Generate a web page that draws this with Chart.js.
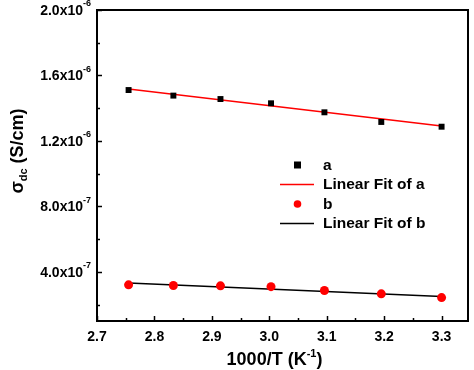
<!DOCTYPE html>
<html><head><meta charset="utf-8">
<script src="https://cdn.jsdelivr.net/npm/chart.js@4.4.0/dist/chart.umd.min.js"></script>
<style>html,body{margin:0;padding:0;background:#fff}</style>
</head><body>
<canvas id="c" width="474" height="370"></canvas>
<script>
const invT = [2.755, 2.833, 2.915, 3.003, 3.096, 3.195, 3.300];
const sigmaA = [1.511e-6, 1.477e-6, 1.456e-6, 1.430e-6, 1.375e-6, 1.316e-6, 1.287e-6];
const sigmaB = [0.321e-6, 0.317e-6, 0.315e-6, 0.310e-6, 0.286e-6, 0.266e-6, 0.243e-6];
const fitX = [2.755, 3.300];
const fitA = [1.518e-6, 1.292e-6];
const fitB = [0.332e-6, 0.250e-6];
const xMajorTicks = [2.7, 2.8, 2.9, 3.0, 3.1, 3.2, 3.3];
const xTickLabels = ['2.7', '2.8', '2.9', '3.0', '3.1', '3.2', '3.3'];
const xMinorTicks = [2.75, 2.85, 2.95, 3.05, 3.15, 3.25];
const yMajorTicks = [4e-7, 8e-7, 1.2e-6, 1.6e-6, 2.0e-6];
const yTickMantissa = ['4.0x10', '8.0x10', '1.2x10', '1.6x10', '2.0x10'];
const yTickExp = ['-7', '-7', '-6', '-6', '-6'];
const yMinorTicks = [2e-7, 6e-7, 1.0e-6, 1.4e-6, 1.8e-6];
const seriesLabels = ['a', 'Linear Fit of a', 'b', 'Linear Fit of b'];

const FONT = '"Liberation Sans", Arial, sans-serif';
const pts = (xs, ys) => xs.map((x, i) => ({x: x, y: ys[i]}));

const axisPlugin = {
  id: 'originAxes',
  afterDraw(chart) {
    const ctx = chart.ctx;
    const xs = chart.scales.x, ys = chart.scales.y;
    const a = chart.chartArea;
    ctx.save();
    ctx.strokeStyle = '#000';
    ctx.fillStyle = '#000';
    ctx.lineWidth = 2;
    ctx.strokeRect(a.left, a.top, a.right - a.left, a.bottom - a.top);
    ctx.lineWidth = 1.5;
    xMajorTicks.forEach(v => {
      const px = Math.round(xs.getPixelForValue(v)) + 0.5;
      ctx.beginPath(); ctx.moveTo(px, a.bottom); ctx.lineTo(px, a.bottom - 5); ctx.stroke();
    });
    xMinorTicks.forEach(v => {
      const px = Math.round(xs.getPixelForValue(v)) + 0.5;
      ctx.beginPath(); ctx.moveTo(px, a.bottom); ctx.lineTo(px, a.bottom - 3); ctx.stroke();
    });
    yMajorTicks.forEach(v => {
      const py = Math.round(ys.getPixelForValue(v)) + 0.5;
      ctx.beginPath(); ctx.moveTo(a.left, py); ctx.lineTo(a.left + 5, py); ctx.stroke();
    });
    yMinorTicks.forEach(v => {
      const py = Math.round(ys.getPixelForValue(v)) + 0.5;
      ctx.beginPath(); ctx.moveTo(a.left, py); ctx.lineTo(a.left + 3, py); ctx.stroke();
    });
    ctx.font = 'bold 14px ' + FONT;
    ctx.textAlign = 'center';
    ctx.textBaseline = 'middle';
    xMajorTicks.forEach((v, i) => {
      ctx.fillText(xTickLabels[i], xs.getPixelForValue(v), a.bottom + 16);
    });
    yMajorTicks.forEach((v, i) => {
      const py = ys.getPixelForValue(v);
      ctx.font = 'bold 9px ' + FONT;
      const we = ctx.measureText(yTickExp[i]).width;
      ctx.textAlign = 'right';
      ctx.textBaseline = 'middle';
      const right = a.left - 6;
      ctx.fillText(yTickExp[i], right, py - 6);
      ctx.font = 'bold 14px ' + FONT;
      ctx.fillText(yTickMantissa[i], right - we, py + 1);
    });
    ctx.textBaseline = 'alphabetic';
    ctx.textAlign = 'left';
    const p1 = '1000/T (K', sup = '-1', p2 = ')';
    ctx.font = 'bold 18px ' + FONT;
    const w1 = ctx.measureText(p1).width, w3 = ctx.measureText(p2).width;
    ctx.font = 'bold 11px ' + FONT;
    const w2 = ctx.measureText(sup).width;
    let sx = 274.5 - (w1 + w2 + w3) / 2;
    const by = 365;
    ctx.font = 'bold 18px ' + FONT;
    ctx.fillText(p1, sx, by);
    ctx.font = 'bold 11px ' + FONT;
    ctx.fillText(sup, sx + w1, by - 8);
    ctx.font = 'bold 18px ' + FONT;
    ctx.fillText(p2, sx + w1 + w2, by);
    ctx.save();
    ctx.translate(23, 151);
    ctx.rotate(-Math.PI / 2);
    const t1 = '\u03C3', t2 = 'dc', t3 = ' (S/cm)';
    ctx.font = 'bold 18px ' + FONT;
    const u1 = ctx.measureText(t1).width, u3 = ctx.measureText(t3).width;
    ctx.font = 'bold 11px ' + FONT;
    const u2 = ctx.measureText(t2).width;
    let tx = -(u1 + u2 + u3) / 2;
    ctx.font = 'bold 18px ' + FONT;
    ctx.fillText(t1, tx, 0);
    ctx.font = 'bold 11px ' + FONT;
    ctx.fillText(t2, tx + u1, 4);
    ctx.font = 'bold 18px ' + FONT;
    ctx.fillText(t3, tx + u1 + u2, 0);
    ctx.restore();
    const ds = chart.data.datasets;
    const rows = [165, 184, 204, 223];
    ctx.font = 'bold 15.5px ' + FONT;
    ctx.textBaseline = 'middle';
    ds.forEach((d, i) => {
      const y = rows[i];
      if (d.showLine) {
        ctx.strokeStyle = d.borderColor; ctx.lineWidth = 1.5;
        ctx.beginPath(); ctx.moveTo(280, y + 0.5); ctx.lineTo(314, y + 0.5); ctx.stroke();
      } else if (d.pointStyle === 'rect') {
        ctx.fillStyle = d.backgroundColor;
        ctx.fillRect(294, y - 3.5, 7, 7);
      } else {
        ctx.fillStyle = d.backgroundColor;
        ctx.beginPath(); ctx.arc(297.5, y, 3.8, 0, Math.PI * 2); ctx.fill();
      }
      ctx.fillStyle = '#000';
      ctx.fillText(d.label, 323, y + 1);
    });
    ctx.restore();
  }
};

new Chart(document.getElementById('c'), {
  type: 'scatter',
  data: {
    datasets: [
      {label: seriesLabels[0], data: pts(invT, sigmaA), pointStyle: 'rect', pointRadius: 4.2, backgroundColor: '#000', borderColor: '#000', borderWidth: 0, showLine: false},
      {label: seriesLabels[1], data: pts(fitX, fitA), showLine: true, pointRadius: 0, borderColor: '#ff0000', borderWidth: 1.5, backgroundColor: '#ff0000'},
      {label: seriesLabels[2], data: pts(invT, sigmaB), pointStyle: 'circle', pointRadius: 4.5, backgroundColor: '#ff0000', borderColor: '#ff0000', borderWidth: 0, showLine: false},
      {label: seriesLabels[3], data: pts(fitX, fitB), showLine: true, pointRadius: 0, borderColor: '#000', borderWidth: 1.5, backgroundColor: '#000'}
    ]
  },
  options: {
    responsive: false,
    devicePixelRatio: 1,
    animation: false,
    layout: {padding: {left: 97, right: 6, top: 10, bottom: 49}},
    plugins: {legend: {display: false}, tooltip: {enabled: false}},
    scales: {
      x: {type: 'linear', display: false, min: 2.7, max: 3.346},
      y: {type: 'linear', display: false, min: 1e-7, max: 2e-6}
    }
  },
  plugins: [axisPlugin]
});
</script>
</body></html>
